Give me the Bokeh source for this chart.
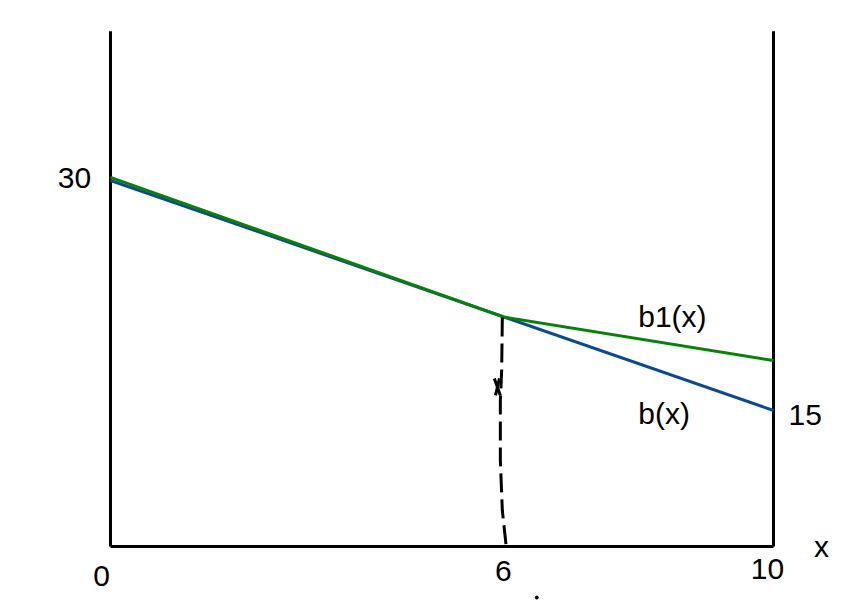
from bokeh.plotting import figure
from bokeh.models import Range1d
from bokeh.embed import file_html
from bokeh.resources import INLINE
from bokeh.core.properties import value

# ---- data ----
b_x = [0, 10]
b_y = [30, 15]
b1_x = [0, 5.93, 10]
b1_y = [30.2, 21.1, 18.26]
drop_x = [5.91, 5.90, 5.88, 5.88, 5.91, 5.97]
drop_y = [21.07, 17.61, 15.65, 11.74, 8.48, 6.07]
mark_xs = [[5.79, 5.88], [5.867, 5.807]]
mark_ys = [[17.09, 15.98], [17.09, 15.98]]
dot_x = [6.43]
dot_y = [2.8]
frame_bottom = 6.13
frame_top = 39.74
x_ticks = [0, 6, 10]
x_tick_labels = ["0", "6", "10"]
y_ticks = [30, 15]
y_tick_labels = ["30", "15"]
curve_labels = ["b1(x)", "b(x)"]
curve_label_x = [7.96, 7.96]
curve_label_y = [21.13, 14.80]

FONT = value("Liberation Sans")
FS = "30px"

p = figure(width=857, height=611, output_backend="svg", toolbar_location=None,
           x_range=Range1d(-1.659, 11.267), y_range=Range1d(1.890, 41.739),
           x_axis_type=None, y_axis_type=None, min_border=0)
p.outline_line_color = None
p.xgrid.visible = False
p.ygrid.visible = False
p.background_fill_color = "white"
p.border_fill_color = "white"

# frame
p.line([x_ticks[0], x_ticks[0]], [frame_bottom, frame_top], line_color="black", line_width=3)
p.line([x_ticks[-1], x_ticks[-1]], [frame_bottom, frame_top], line_color="black", line_width=3)
p.line([x_ticks[0], x_ticks[-1]], [frame_bottom, frame_bottom], line_color="black", line_width=3)

# curves
p.line(b_x, b_y, line_color="#0b4a8c", line_width=3)
p.line(b1_x, b1_y, line_color="#0a800a", line_width=3)

# dashed drop line
p.line(drop_x, drop_y, line_color="black", line_width=3, line_dash="19 7")
p.multi_line(mark_xs, mark_ys, line_color="black", line_width=3)
p.scatter(dot_x, dot_y, size=3, color="black")

# x tick labels
p.text(x=x_ticks, y=[frame_bottom] * 3, text=x_tick_labels,
       x_offset=[-9, -5, -6], y_offset=[30, 25, 23],
       text_align="center", text_baseline="alphabetic",
       text_font=FONT, text_font_size=FS, text_color="black")
# y tick labels
p.text(x=[x_ticks[0]], y=[y_ticks[0]], text=[y_tick_labels[0]], x_offset=-36, y_offset=-2,
       text_align="center", text_baseline="alphabetic",
       text_font=FONT, text_font_size=FS, text_color="black")
p.text(x=[x_ticks[-1]], y=[y_ticks[1]], text=[y_tick_labels[1]], x_offset=15, y_offset=5,
       text_align="left", text_baseline="alphabetic",
       text_font=FONT, text_font_size=FS, text_color="black")
# axis name
p.text(x=[x_ticks[-1]], y=[frame_bottom], text=["x"], x_offset=48, y_offset=0,
       text_align="center", text_baseline="alphabetic",
       text_font=FONT, text_font_size=FS, text_color="black")
# curve labels
p.text(x=curve_label_x, y=curve_label_y, text=curve_labels,
       text_align="left", text_baseline="alphabetic",
       text_font=FONT, text_font_size=FS, text_color="black")

open("out.html", "w").write(file_html(p, INLINE))
